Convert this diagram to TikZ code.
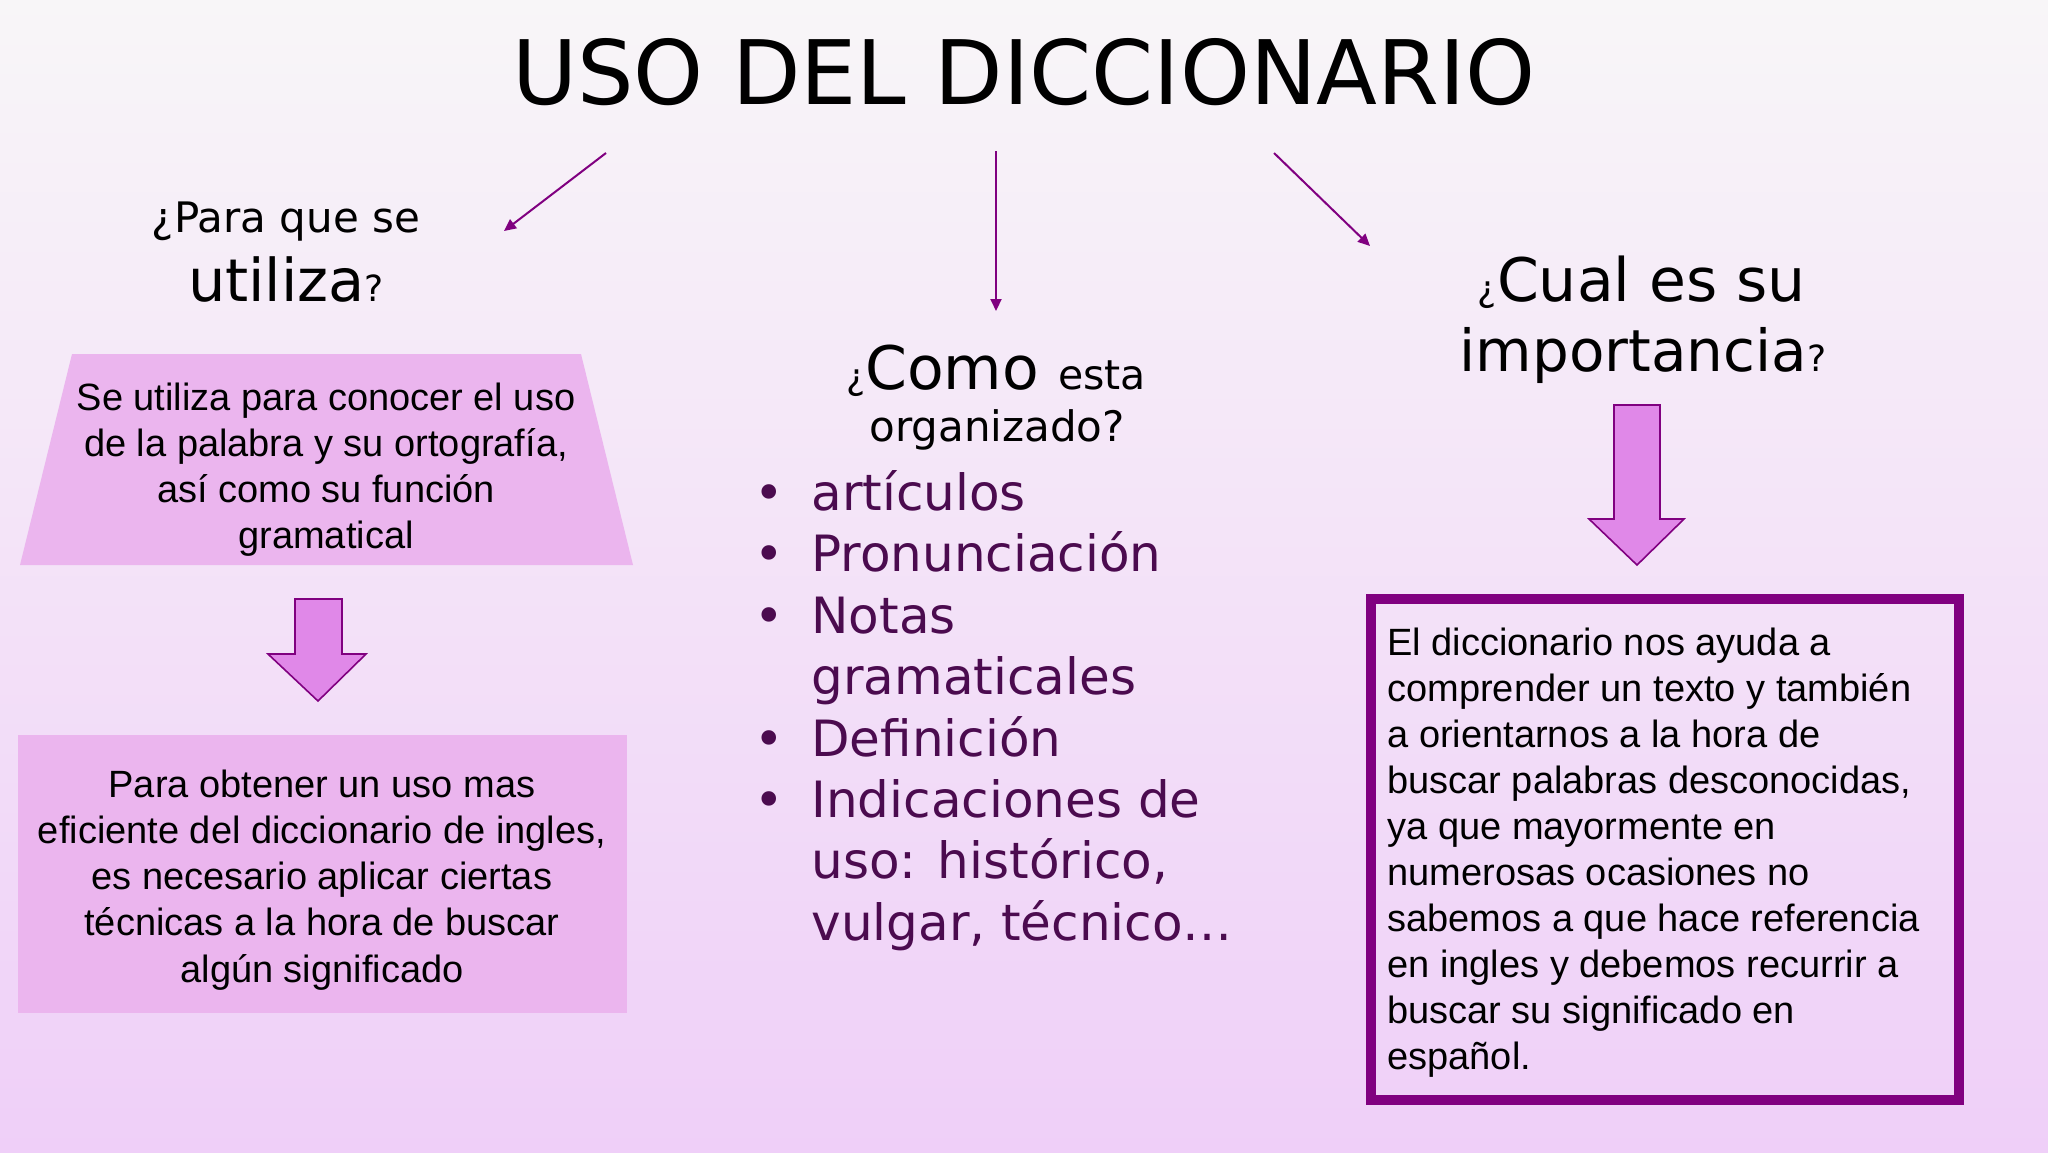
\documentclass[tikz,border=0pt]{standalone}
\usepackage{fontspec}
\setmainfont{DejaVu Sans}
\newfontfamily\arialf{Liberation Sans}
\usetikzlibrary{arrows.meta}
\definecolor{bgtop}{HTML}{F8F6F8}
\definecolor{bgmid}{HTML}{F3E0F6}
\definecolor{bgbot}{HTML}{EFCFF8}
\definecolor{boxfill}{HTML}{EBB5EE}
\definecolor{arrfill}{HTML}{E088E8}
\definecolor{purp}{HTML}{800080}
\definecolor{listc}{HTML}{4B0B4F}
\newcommand{\smallq}{\fontsize{18}{21}\selectfont}
\begin{document}
\begin{tikzpicture}[x=0.5pt,y=-0.5pt,
  conn/.style={draw=purp, line width=1pt, -{Triangle[length=6pt,width=5.5pt]}},
  blockarrow/.style={fill=arrfill, draw=purp, line width=0.8pt},
  tbox/.style={fill=boxfill},
  txt/.style={inner sep=0pt, anchor=base},
  boxtxt/.style={txt, font=\arialf\fontsize{19}{23}\selectfont},
  rboxtxt/.style={inner sep=0pt, anchor=base west, font=\arialf\fontsize{19}{23}\selectfont},
  listtxt/.style={inner sep=0pt, anchor=base west, text=listc, font=\fontsize{25}{30}\selectfont},
  bul/.style={inner sep=0pt, anchor=base, text=listc, font=\fontsize{25}{30}\selectfont},
]
\useasboundingbox (0,0) rectangle (2048,1152);
\shade[top color=bgtop, middle color=bgmid, bottom color=bgbot] (0,0) rectangle (2048,1152);

% title
\node[txt] (title) at (1024,104) {\fontsize{44.5}{52}\selectfont USO DEL DICCIONARIO};

% connectors
\coordinate (a1s) at (606,153); \coordinate (a1e) at (504,231);
\coordinate (a2s) at (996,151); \coordinate (a2e) at (996,311);
\coordinate (a3s) at (1274,153); \coordinate (a3e) at (1370,246);
\draw[conn] (a1s) -- (a1e);
\draw[conn] (a2s) -- (a2e);
\draw[conn] (a3s) -- (a3e);

% left column
\node[txt] (h1a) at (286,232) {\fontsize{21}{25}\selectfont ¿Para que se};
\node[txt] (h1b) at (286,301) {\fontsize{29.5}{35}\selectfont utiliza\smallq ?};
\path[tbox] (72,354) -- (581,354) -- (633,565) -- (20,565) -- cycle;
\foreach \t [count=\i] in {{Se utiliza para conocer el uso},{de la palabra y su ortografía,},{así como su función},{gramatical}}
  \node[boxtxt] (tl\i) at (326,{364+46*\i}) {\t};
\path[blockarrow] (295,599) -- (342,599) -- (342,654) -- (366,654) -- (318,701) -- (268,654) -- (295,654) -- cycle;
\path[tbox] (18,735) rectangle (627,1013);
\foreach \t [count=\i] in {{Para obtener un uso mas},{eficiente del diccionario de ingles,},{es necesario aplicar ciertas},{técnicas a la hora de buscar},{algún significado}}
  \node[boxtxt] (bl\i) at (322,{750.75+46.25*\i}) {\t};

% middle column
\node[txt] (h2a) at (996,389) {\smallq ¿\fontsize{30}{36}\selectfont Como \fontsize{20.5}{25}\selectfont esta};
\node[txt] (h2b) at (997,441) {\fontsize{21}{25}\selectfont organizado?};
\node[bul] (b1) at (769,510) {•};
\node[listtxt] (m1) at (811,510) {artículos};
\node[bul] (b2) at (769,571) {•};
\node[listtxt] (m2) at (811,571) {Pronunciación};
\node[bul] (b3) at (769,633) {•};
\node[listtxt] (m3) at (811,633) {Notas};
\node[listtxt] (m4) at (811,694) {gramaticales};
\node[bul] (b5) at (769,756) {•};
\node[listtxt] (m5) at (811,756) {Definición};
\node[bul] (b6) at (769,817) {•};
\node[listtxt] (m6) at (811,817) {Indicaciones de};
\node[listtxt] (m7) at (811,878) {uso: histórico,};
\node[listtxt] (m8) at (811,940) {vulgar, técnico…};

% right column
\node[txt] (h3a) at (1642,301) {\smallq ¿\fontsize{30}{36}\selectfont Cual es su};
\node[txt] (h3b) at (1643,371) {\fontsize{29}{35}\selectfont importancia\smallq ?};
\path[blockarrow] (1614,405) -- (1660,405) -- (1660,519) -- (1684,519) -- (1637,565) -- (1589,519) -- (1614,519) -- cycle;
\draw[purp, line width=5pt] (1371,599) rectangle (1959,1100);
\foreach \t [count=\i] in {{El diccionario nos ayuda a},{comprender un texto y también},{a orientarnos a la hora de},{buscar palabras desconocidas,},{ya que mayormente en},{numerosas ocasiones no},{sabemos a que hace referencia},{en ingles y debemos recurrir a},{buscar su significado en},{español.}}
  \node[rboxtxt] (rt\i) at (1387,{609+46*\i}) {\t};
\end{tikzpicture}
\end{document}
